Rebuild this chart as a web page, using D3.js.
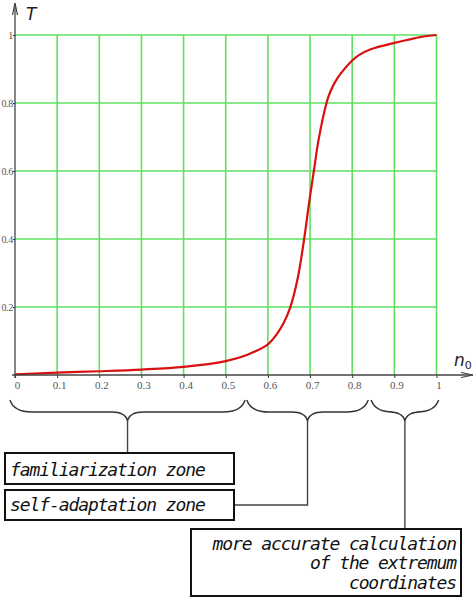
<!DOCTYPE html>
<html>
<head>
<meta charset="utf-8">
<script src="https://cdn.jsdelivr.net/npm/d3@7"></script>
<style>
    html, body { margin: 0; padding: 0; background: #fff; }
    svg { display: block; }
    .tick text { font-family: "Liberation Serif", serif; font-size: 11px; fill: #555; }
    .zone_text { font-family: "DejaVu Sans Mono", monospace; font-style: italic; font-size: 18px; letter-spacing: -1.1px; fill: #111; }
</style>
</head>
<body>
<div class="chart_container"></div>
<script>
//^ DATA //
const nValues = [0, 0.1, 0.2, 0.3, 0.4, 0.5, 0.55, 0.6, 0.62, 0.637, 0.652, 0.67, 0.686, 0.697, 0.709, 0.72, 0.739, 0.748, 0.76, 0.773, 0.8, 0.816, 0.844, 0.9, 0.932, 0.963, 1.0];
const tValues = [0.002, 0.007, 0.011, 0.016, 0.024, 0.041, 0.059, 0.09, 0.118, 0.152, 0.195, 0.28, 0.4, 0.5, 0.6, 0.69, 0.8, 0.833, 0.863, 0.887, 0.925, 0.941, 0.958, 0.977, 0.986, 0.994, 1.0];
const xTicks = [0, 0.1, 0.2, 0.3, 0.4, 0.5, 0.6, 0.7, 0.8, 0.9, 1];
const yTicks = [0.2, 0.4, 0.6, 0.8, 1];
const zoneStart = [-0.012, 0.55, 0.845];
const zoneEnd = [0.546, 0.838, 1.005];
const zoneLabels = [
    ["familiarization zone"],
    ["self-adaptation zone"],
    ["more accurate calculation", "of the extremum", "coordinates"]
];

document.addEventListener("DOMContentLoaded", () => {
    const container = document.querySelector(".chart_container");
    //^ DIMENSIONS //
    const width = 474;
    const height = 597;
    const axisY = 375;

    const svg = d3.select(container).append("svg").attr("width", width).attr("height", height);

    //^ SCALES //
    const xScale = d3.scaleLinear().domain([0, 1]).range([15, 436.5]);
    const yScale = d3.scaleLinear().domain([0, 1]).range([axisY, 35]);

    //^ ARROW MARKER //
    svg.append("defs").append("marker")
        .attr("id", "arrow")
        .attr("viewBox", "0 0 12 6")
        .attr("refX", 12).attr("refY", 3)
        .attr("markerWidth", 12).attr("markerHeight", 6)
        .attr("markerUnits", "userSpaceOnUse")
        .attr("orient", "auto")
        .append("path")
        .attr("d", "M0,0.5 L12,3 L0,5.5")
        .attr("fill", "none")
        .attr("stroke", "#444")
        .attr("stroke-width", 1.2);

    //^ GRID //
    const grid = svg.append("g").attr("stroke", "#5fe05f").attr("stroke-width", 1.6);
    grid.selectAll(".vline").data(xTicks.filter((d) => d > 0)).enter().append("line")
        .attr("x1", (d) => xScale(d)).attr("x2", (d) => xScale(d))
        .attr("y1", yScale(0)).attr("y2", yScale(1));
    grid.selectAll(".hline").data(yTicks).enter().append("line")
        .attr("x1", xScale(0)).attr("x2", xScale(1))
        .attr("y1", (d) => yScale(d)).attr("y2", (d) => yScale(d));

    //^ CURVE //
    const points = nValues.map((n, i) => [n, tValues[i]]);
    const line = d3.line().x((d) => xScale(d[0])).y((d) => yScale(d[1])).curve(d3.curveCatmullRom.alpha(0.5));
    svg.append("path").datum(points)
        .attr("d", line)
        .attr("fill", "none")
        .attr("stroke", "#d81010")
        .attr("stroke-width", 2.2);

    //^ AXES //
    const xAxis = d3.axisBottom(xScale).tickValues(xTicks).tickSize(3).tickPadding(3).tickFormat(d3.format(""));
    const gx = svg.append("g").attr("transform", `translate(0, ${axisY})`).call(xAxis);
    gx.select(".domain").remove();
    gx.selectAll(".tick line").attr("stroke", "#333");
    gx.selectAll(".tick text").attr("dx", 2);

    const yAxis = d3.axisLeft(yScale).tickValues(yTicks).tickSize(2).tickPadding(0).tickFormat(d3.format(""));
    const gy = svg.append("g").attr("transform", `translate(${xScale(0)}, 0)`).call(yAxis);
    gy.select(".domain").remove();
    gy.selectAll(".tick line").attr("stroke", "#333");
    gy.selectAll(".tick text").style("font-size", "10px").attr("letter-spacing", -0.3);

    svg.append("line")
        .attr("x1", xScale(0) - 3).attr("x2", 473)
        .attr("y1", axisY).attr("y2", axisY)
        .attr("stroke", "#444").attr("stroke-width", 1.3)
        .attr("marker-end", "url(#arrow)");
    svg.append("line")
        .attr("x1", xScale(0)).attr("x2", xScale(0))
        .attr("y1", axisY + 3).attr("y2", 3)
        .attr("stroke", "#444").attr("stroke-width", 1.3)
        .attr("marker-end", "url(#arrow)");

    //^ AXIS TITLES //
    svg.append("text").attr("x", 26).attr("y", 20).text("T")
        .attr("font-family", "DejaVu Sans").attr("font-style", "italic").attr("font-size", 17).attr("fill", "#222");
    const nLabel = svg.append("text").attr("x", 454).attr("y", 366)
        .attr("font-family", "DejaVu Sans").attr("font-style", "italic").attr("font-size", 17).attr("fill", "#222");
    nLabel.append("tspan").text("n");
    nLabel.append("tspan").text("0").attr("font-size", 11).attr("font-style", "normal").attr("dy", 3);

    //^ BRACES //
    const yt = 400, ym = 412, yb = 421;
    const brace = (x1, x2) => {
        const m = (x1 + x2) / 2;
        return `M${x1},${yt} Q${x1 + 4},${ym} ${x1 + 22},${ym} L${m - 16},${ym} Q${m - 2},${ym} ${m},${yb}` +
            ` Q${m + 2},${ym} ${m + 16},${ym} L${x2 - 22},${ym} Q${x2 - 4},${ym} ${x2},${yt}`;
    };
    const mids = zoneStart.map((s, i) => (xScale(s) + xScale(zoneEnd[i])) / 2);
    svg.selectAll(".brace").data(zoneStart).enter().append("path")
        .attr("d", (d, i) => brace(xScale(d), xScale(zoneEnd[i])))
        .attr("fill", "none").attr("stroke", "#333").attr("stroke-width", 1.4);

    //^ LABEL BOXES //
    const boxes = [
        { x: 5, y: 453, w: 229, h: 31, anchor: "start", tx: 10, ty: [476] },
        { x: 5, y: 490, w: 229, h: 30, anchor: "start", tx: 10, ty: [511] },
        { x: 191, y: 529, w: 270, h: 67, anchor: "end", tx: 456, ty: [550, 569, 589] }
    ];

    // connector lines from brace tips
    const conn = svg.append("g").attr("fill", "none").attr("stroke", "#444").attr("stroke-width", 1.4);
    conn.append("path").attr("d", `M${mids[0]},${yb} V${boxes[0].y}`);
    conn.append("path").attr("d", `M${mids[1]},${yb} V505 H${boxes[1].x + boxes[1].w}`);
    conn.append("path").attr("d", `M${mids[2]},${yb} V${boxes[2].y}`);

    boxes.forEach((b, i) => {
        svg.append("rect")
            .attr("x", b.x).attr("y", b.y).attr("width", b.w).attr("height", b.h)
            .attr("fill", "#fff").attr("stroke", "#111").attr("stroke-width", 2);
        zoneLabels[i].forEach((t, j) => {
            svg.append("text").attr("class", "zone_text")
                .attr("x", b.tx).attr("y", b.ty[j])
                .attr("text-anchor", b.anchor)
                .text(t);
        });
    });
});
</script>
</body>
</html>
